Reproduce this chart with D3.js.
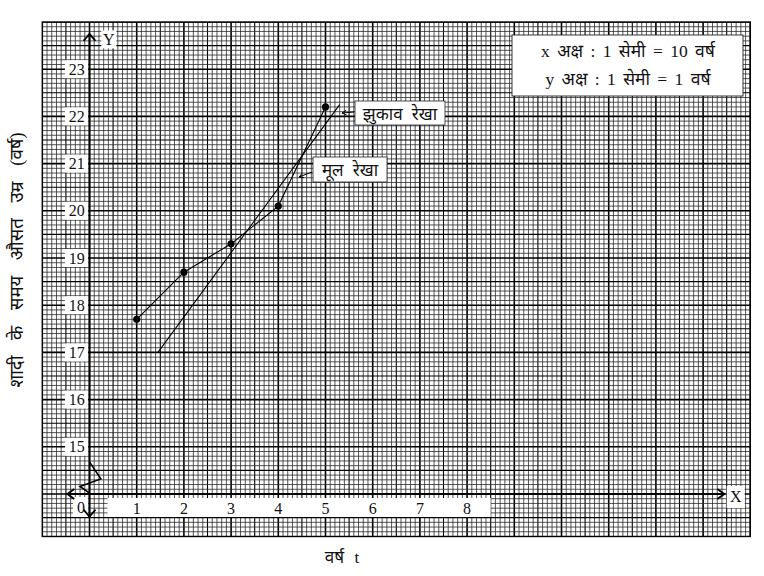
<!DOCTYPE html>
<html>
<head>
<meta charset="utf-8">
<script src="https://cdn.jsdelivr.net/npm/d3@7"></script>
<style>
  body { margin: 0; background: #fff; }
  svg { display: block; }
  .num { font-family: "Liberation Serif", "Times New Roman", serif; font-size: 16px; fill: #111; }
  .hi { font-family: "Liberation Serif", "Noto Sans", "Noto Sans Devanagari", serif; fill: #111; }
</style>
</head>
<body>
<div id="chart"></div>
<script>
// data
const years = [1, 2, 3, 4, 5];
const ages = [17.7, 18.7, 19.3, 20.1, 22.2];
const trendYears = [1.45, 5.3];
const trendAges = [17.0, 22.25];
const xTicks = [1, 2, 3, 4, 5, 6, 7, 8];
const yTicks = [15, 16, 17, 18, 19, 20, 21, 22, 23];

const width = 764, height = 576;

const svg = d3.select("#chart").append("svg")
  .attr("width", width)
  .attr("height", height);

// 1 unit = 1 cm on the paper
const x = d3.scaleLinear().domain([0, 14]).range([89.5, 89.5 + 14 * 47.2]);
const y = d3.scaleLinear().domain([14, 24]).range([494, 494 - 10 * 47.2]);

const paper = { x0: x(-1), x1: x(14), y0: y(24), y1: y(13.1) };

svg.append("clipPath").attr("id", "paper")
  .append("rect")
  .attr("x", paper.x0).attr("y", paper.y0)
  .attr("width", paper.x1 - paper.x0).attr("height", paper.y1 - paper.y0);

const grid = svg.append("g").attr("clip-path", "url(#paper)");

// graph paper: mm lines, half-cm lines, cm lines
function gridStyle(sel, i) {
  if (i % 10 === 0) return sel.attr("stroke", "#000").attr("stroke-width", 1.6);
  if (i % 5 === 0) return sel.attr("stroke", "#000").attr("stroke-width", 1.1);
  return sel.attr("stroke", "#2a2a2a").attr("stroke-width", 0.8);
}

const vLines = d3.range(-10, 141);
const hLines = d3.range(130, 241);

vLines.filter(i => i % 5 !== 0).concat(vLines.filter(i => i % 5 === 0)).forEach(i => {
  gridStyle(grid.append("line")
    .attr("x1", x(i / 10)).attr("x2", x(i / 10))
    .attr("y1", paper.y0).attr("y2", paper.y1), i);
});
hLines.filter(i => i % 5 !== 0).concat(hLines.filter(i => i % 5 === 0)).forEach(i => {
  gridStyle(grid.append("line")
    .attr("y1", y(i / 10)).attr("y2", y(i / 10))
    .attr("x1", paper.x0).attr("x2", paper.x1), i);
});

svg.append("rect")
  .attr("x", paper.x0).attr("y", paper.y0)
  .attr("width", paper.x1 - paper.x0).attr("height", paper.y1 - paper.y0)
  .attr("fill", "none").attr("stroke", "#000").attr("stroke-width", 1.4);

// white strip behind the x tick labels
svg.append("rect")
  .attr("x", x(0.38)).attr("y", y(14) + 4)
  .attr("width", x(8.5) - x(0.38)).attr("height", 19)
  .attr("fill", "#fff");

svg.append("rect")
  .attr("x", x(-0.35)).attr("y", y(14) + 3)
  .attr("width", 15).attr("height", 20)
  .attr("fill", "#fff");

// axes
const axes = svg.append("g").attr("stroke", "#000").attr("stroke-width", 1.8).attr("fill", "none");
axes.append("line").attr("x1", x(0)).attr("x2", x(0)).attr("y1", y(13.52)).attr("y2", y(23.75));
axes.append("line").attr("x1", x(-0.47)).attr("x2", x(13.45)).attr("y1", y(14)).attr("y2", y(14));

// arrow heads
axes.append("path").attr("d", `M${x(0) - 6},${y(23.75) + 7} L${x(0)},${y(23.75)} L${x(0) + 6},${y(23.75) + 7}`);
axes.append("path").attr("d", `M${x(0) - 6},${y(13.52) - 7} L${x(0)},${y(13.52)} L${x(0) + 6},${y(13.52) - 7}`);
axes.append("path").attr("d", `M${x(13.45) - 7},${y(14) - 5} L${x(13.45)},${y(14)} L${x(13.45) - 7},${y(14) + 5}`);
axes.append("path").attr("d", `M${x(-0.47) + 7},${y(14) - 5} L${x(-0.47)},${y(14)} L${x(-0.47) + 7},${y(14) + 5}`);

// axis break (zig-zag)
axes.append("path")
  .attr("stroke-width", 1.6)
  .attr("d", `M${x(0)},${y(14.68)} L${x(0.24)},${y(14.32)} L${x(-0.2)},${y(14.16)} L${x(0)},${y(14.02)}`);

// y tick labels in white boxes
const yLab = svg.append("g");
yTicks.forEach(v => {
  yLab.append("rect")
    .attr("x", x(-0.52)).attr("y", y(v) - 9)
    .attr("width", 23).attr("height", 18).attr("fill", "#fff");
  yLab.append("text").attr("class", "num")
    .attr("x", x(-0.27)).attr("y", y(v))
    .attr("text-anchor", "middle").attr("dominant-baseline", "central")
    .text(v);
});

// x tick labels
xTicks.forEach(v => {
  svg.append("text").attr("class", "num")
    .attr("x", x(v)).attr("y", y(14) + 14)
    .attr("text-anchor", "middle").attr("dominant-baseline", "central")
    .text(v);
});
svg.append("text").attr("class", "num")
  .attr("x", x(-0.18)).attr("y", y(14) + 13)
  .attr("text-anchor", "middle").attr("dominant-baseline", "central")
  .text("0");

// axis letters
svg.append("rect").attr("x", x(0.25)).attr("y", y(23.8) - 1).attr("width", 15).attr("height", 18).attr("fill", "#fff");
svg.append("text").attr("class", "num")
  .attr("x", x(0.25) + 7.5).attr("y", y(23.8) + 8)
  .attr("text-anchor", "middle").attr("dominant-baseline", "central")
  .text("Y");
svg.append("rect").attr("x", x(13.5)).attr("y", y(14) - 8).attr("width", 18).attr("height", 22).attr("fill", "#fff");
svg.append("text").attr("class", "num")
  .attr("x", x(13.5) + 9).attr("y", y(14) + 2)
  .attr("text-anchor", "middle").attr("dominant-baseline", "central")
  .text("X");

// trend line
svg.append("line")
  .attr("x1", x(trendYears[0])).attr("y1", y(trendAges[0]))
  .attr("x2", x(trendYears[1])).attr("y2", y(trendAges[1]))
  .attr("stroke", "#000").attr("stroke-width", 1.1);

// original line with points
const line = d3.line().x((d, i) => x(years[i])).y(d => y(d));
svg.append("path")
  .attr("d", line(ages))
  .attr("fill", "none").attr("stroke", "#000").attr("stroke-width", 1.1);

svg.selectAll(".pt").data(ages).enter().append("circle")
  .attr("class", "pt")
  .attr("cx", (d, i) => x(years[i])).attr("cy", d => y(d))
  .attr("r", 3.6).attr("fill", "#000");

// annotation boxes
function note(text, bx, by, bw, bh, ax1, ay1, ax2, ay2) {
  const g = svg.append("g");
  g.append("rect").attr("x", bx).attr("y", by).attr("width", bw).attr("height", bh)
    .attr("fill", "#fff").attr("stroke", "#222").attr("stroke-width", 0.8);
  g.append("text").attr("class", "hi")
    .attr("x", bx + bw / 2).attr("y", by + bh / 2 + 1)
    .attr("text-anchor", "middle").attr("dominant-baseline", "central")
    .style("font-size", "17px").style("word-spacing", "5px")
    .text(text);
  g.append("line").attr("x1", ax1).attr("y1", ay1).attr("x2", ax2).attr("y2", ay2)
    .attr("stroke", "#000").attr("stroke-width", 1);
  const ang = Math.atan2(ay2 - ay1, ax2 - ax1);
  const h = 5;
  g.append("path")
    .attr("d", `M${ax2 - h * Math.cos(ang - 0.5)},${ay2 - h * Math.sin(ang - 0.5)} L${ax2},${ay2} L${ax2 - h * Math.cos(ang + 0.5)},${ay2 - h * Math.sin(ang + 0.5)}`)
    .attr("fill", "none").attr("stroke", "#000").attr("stroke-width", 1);
}
note("झुकाव रेखा", 355, 101, 90, 24, 354, 112, 342, 113);
note("मूल रेखा", 313, 157, 74, 25, 312, 172, 299, 177);

// scale legend
const lg = svg.append("g");
lg.append("rect").attr("x", 512).attr("y", 35).attr("width", 231).attr("height", 61)
  .attr("fill", "#fff").attr("stroke", "#222").attr("stroke-width", 0.9);
lg.append("text").attr("class", "hi").attr("x", 628).attr("y", 51)
  .attr("text-anchor", "middle").attr("dominant-baseline", "central")
  .style("font-size", "17.5px").style("word-spacing", "3px")
  .text("x अक्ष : 1 सेमी = 10 वर्ष");
lg.append("text").attr("class", "hi").attr("x", 628).attr("y", 79)
  .attr("text-anchor", "middle").attr("dominant-baseline", "central")
  .style("font-size", "17.5px").style("word-spacing", "3px")
  .text("y अक्ष : 1 सेमी = 1 वर्ष");

// axis titles
svg.append("text").attr("class", "hi")
  .attr("transform", "translate(17,260) rotate(-90)")
  .attr("text-anchor", "middle").attr("dominant-baseline", "central")
  .style("font-size", "18.5px").style("word-spacing", "11px")
  .text("शादी के समय औसत उम्र (वर्ष)");
svg.append("text").attr("class", "hi")
  .attr("x", 342).attr("y", 557)
  .attr("text-anchor", "middle").attr("dominant-baseline", "central")
  .style("font-size", "17px").style("word-spacing", "6px")
  .text("वर्ष t");
</script>
</body>
</html>
